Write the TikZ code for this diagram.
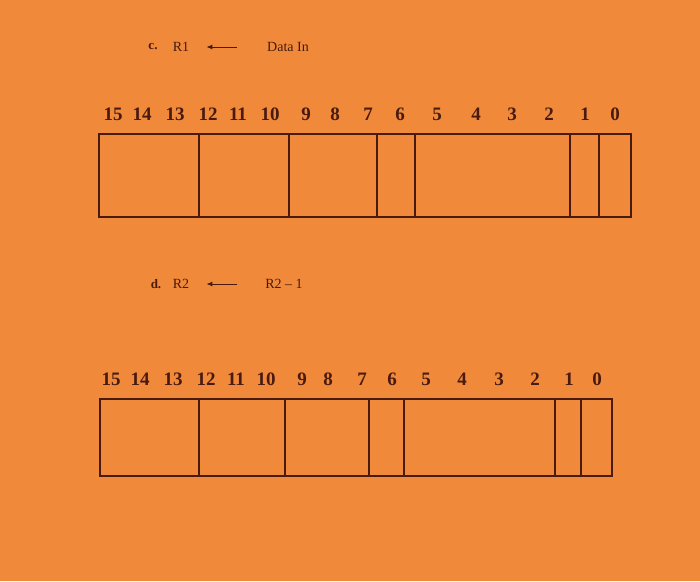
\documentclass[tikz,border=0pt]{standalone}
\usepackage{fontspec}
\setmainfont{Liberation Serif}
\usetikzlibrary{arrows.meta, positioning}
\definecolor{screenorange}{RGB}{240,137,58}
\definecolor{inkbrown}{RGB}{72,26,16}
\tikzset{
  bitnum/.style={
    font=\fontsize{19}{21}\selectfont\bfseries, text=inkbrown, inner sep=0pt
  },
  regtext/.style={
    font=\fontsize{14}{16}\selectfont, text=inkbrown, inner sep=1pt
  },
  regfield/.style={
    draw=inkbrown, line width=1.6pt
  },
  arrow/.style={
    -{Latex[length=6pt,width=5pt]}, draw=inkbrown, line width=1pt
  }
}
\begin{document}
\begin{tikzpicture}[x=1pt, y=-1pt]
  \fill[screenorange] (0,0) rectangle (700,581);
  \useasboundingbox (0,0) rectangle (700,581);

  % part c
  \node[regtext, font=\fontsize{13}{15}\selectfont\bfseries] (clabel) at (153,47) {c.};
  \node[regtext] (rone) at (181,47) {R1};
  \node[regtext] (datain) at (288,47) {Data In};
  \draw[arrow] ([xshift=-29pt]datain.west) -- ([xshift=16pt]rone.east);

  \foreach \n/\x in {15/113,14/142,13/175,12/208,11/238,10/270,9/306,8/335,7/368,6/400,5/437,4/476,3/512,2/549,1/585,0/615}
    \node[bitnum] (top\n) at (\x,114) {\n};
  \draw[regfield] (99,134) rectangle (631,217);
  \foreach \x in {199,289,377,415,570,599}
    \draw[regfield] (\x,134) -- (\x,217);

  % part d
  \node[regtext, font=\fontsize{13}{15}\selectfont\bfseries] (dlabel) at (156,284) {d.};
  \node[regtext] (rtwo) at (181,284) {R2};
  \node[regtext] (rtwodec) at (284,284) {R2 -- 1};
  \draw[arrow] ([xshift=-27pt]rtwodec.west) -- ([xshift=16pt]rtwo.east);

  \foreach \n/\x in {15/111,14/140,13/173,12/206,11/236,10/266,9/302,8/328,7/362,6/392,5/426,4/462,3/499,2/535,1/569,0/597}
    \node[bitnum] (bot\n) at (\x,379) {\n};
  \draw[regfield] (100,399) rectangle (612,476);
  \foreach \x in {199,285,369,404,555,581}
    \draw[regfield] (\x,399) -- (\x,476);
\end{tikzpicture}
\end{document}
